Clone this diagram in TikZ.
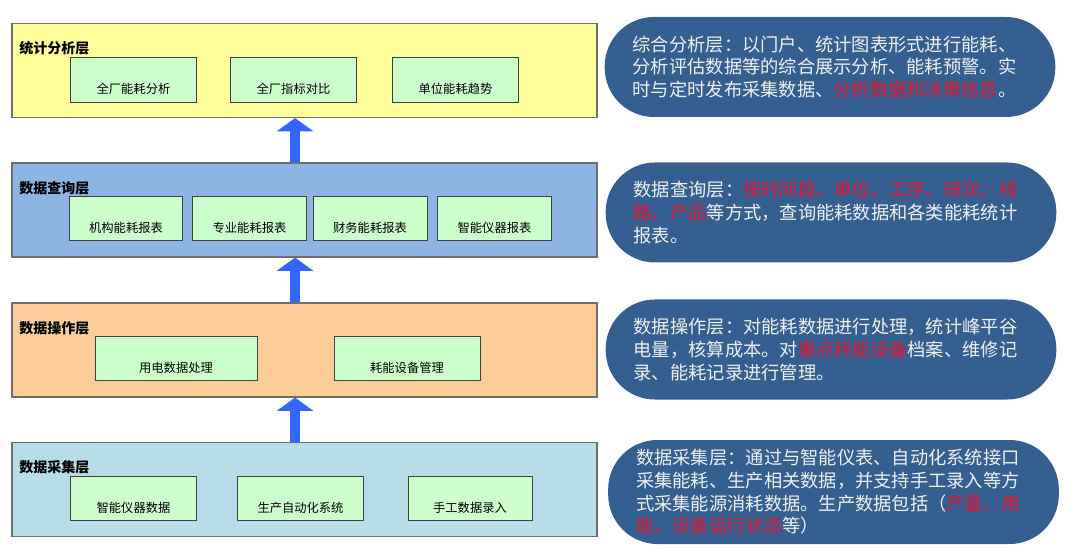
\documentclass[tikz,border=0pt]{standalone}
\usepackage{fontspec}
\setmainfont{Noto Sans CJK SC}
\usepackage{tikz}
\usetikzlibrary{arrows.meta}
\definecolor{anaY}{RGB}{255,255,153}
\definecolor{qryB}{RGB}{142,180,227}
\definecolor{opO}{RGB}{252,204,153}
\definecolor{colB}{RGB}{183,222,232}
\definecolor{itemG}{RGB}{204,255,204}
\definecolor{noteB}{RGB}{54,95,145}
\definecolor{hotR}{RGB}{230,20,45}
\definecolor{liftB}{RGB}{51,102,255}
\definecolor{edgeG}{RGB}{110,110,110}
\newcommand{\hot}[1]{\textcolor{hotR}{#1}}

\begin{document}
\begin{tikzpicture}[x=0.75pt, y=-0.75pt, font=\fontsize{9.2pt}{11pt}\selectfont,
  layer/.style={rectangle, draw=edgeG, line width=0.8pt, minimum width=438.75pt, minimum height=70.5pt, inner sep=0pt},
  ttl/.style={anchor=west, inner sep=0pt, font=\fontsize{10.5pt}{12pt}\selectfont\bfseries},
  item/.style={rectangle, draw=black!75, fill=itemG, line width=0.7pt, minimum height=33.5pt, text height=23pt, text depth=2.5pt, inner sep=0pt},
  note/.style={rectangle, rounded corners=37pt, fill=noteB, text=white!94!black, align=left, text width=296pt, inner xsep=21pt, inner ysep=0pt, minimum height=75pt, font=\fontsize{13.7pt}{17pt}\selectfont},
  lift/.style={draw=liftB, line width=7.5pt, -{Triangle[width=27pt,length=10pt]}}]
  \useasboundingbox (0,0) rectangle (1080,555);
  % layers, top to bottom
  \node[layer, fill=anaY] (L1) at (304.5,70.5) {};
  \node[layer, fill=qryB] (L2) at (304.5,210) {};
  \node[layer, fill=opO] (L3) at (304.5,350) {};
  \node[layer, fill=colB] (L4) at (304.5,489.5) {};
  \node[ttl] (t1) at (19,48) {统计分析层};
  \node[ttl] (t2) at (19,188) {数据查询层};
  \node[ttl] (t3) at (19,328) {数据操作层};
  \node[ttl] (t4) at (19,467) {数据采集层};
  % modules
  \node[item, minimum width=95pt] (a1) at (133.5,80) {全厂能耗分析};
  \node[item, minimum width=95pt] (a2) at (293.5,80) {全厂指标对比};
  \node[item, minimum width=95pt] (a3) at (455.5,80) {单位能耗趋势};
  \node[item, minimum width=85pt] (q1) at (126,218.5) {机构能耗报表};
  \node[item, minimum width=86pt] (q2) at (249.5,218.5) {专业能耗报表};
  \node[item, minimum width=85.5pt] (q3) at (370,218.5) {财务能耗报表};
  \node[item, minimum width=86pt] (q4) at (494.5,218.5) {智能仪器报表};
  \node[item, minimum width=121.5pt] (o1) at (176,358.5) {用电数据处理};
  \node[item, minimum width=109.5pt] (o2) at (407,358.5) {耗能设备管理};
  \node[item, minimum width=95pt] (c1) at (133.5,498.5) {智能仪器数据};
  \node[item, minimum width=94pt] (c2) at (300.5,498.5) {生产自动化系统};
  \node[item, minimum width=93pt] (c3) at (470,498.5) {手工数据录入};
  % data flows upward
  \draw[lift] ([xshift=-7.1pt]L4.north) -- ([xshift=-7.1pt]L3.south);
  \draw[lift] ([xshift=-7.1pt]L3.north) -- ([xshift=-7.1pt]L2.south);
  \draw[lift] ([xshift=-7.1pt]L2.north) -- ([xshift=-7.1pt]L1.south);
  % notes on the right
  \node[note] (n1) at (830,67) {综合分析层：以门户、统计图表形式进行能耗、\\分析评估数据等的综合展示分析、能耗预警。实\\时与定时发布采集数据、\hot{分析数据和决策信息}。};
  \node[note] (n2) at (831,212.5) {数据查询层：\hot{按时间段、单位、工序、班次、线}\\\hot{路、产品}等方式，查询能耗数据和各类能耗统计\\报表。};
  \node[note] (n3) at (831,349.5) {数据操作层：对能耗数据进行处理，统计峰平谷\\电量，核算成本。对\hot{重点耗能设备}档案、维修记\\录、能耗记录进行管理。};
  \node[note, minimum height=78pt] (n4) at (833.5,492) {数据采集层：通过与智能仪表、自动化系统接口\\采集能耗、生产相关数据，并支持手工录入等方\\式采集能源消耗数据。生产数据包括（\hot{产量、用}\\\hot{能、设备运行状态}等）};
\end{tikzpicture}
\end{document}
